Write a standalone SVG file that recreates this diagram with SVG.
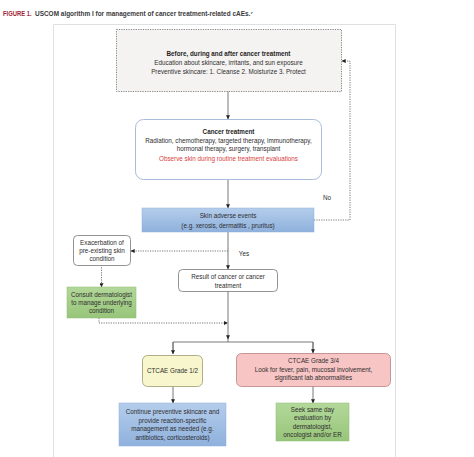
<svg xmlns="http://www.w3.org/2000/svg" width="474" height="457" viewBox="0 0 474 457">
<defs>
<linearGradient id="topline" x1="0" y1="0" x2="1" y2="0">
<stop offset="0" stop-color="#c4b8bc"/><stop offset="0.8" stop-color="#c9bfc2"/><stop offset="1" stop-color="#d9a0ad"/>
</linearGradient>
<linearGradient id="blue" x1="0" y1="0" x2="0" y2="1">
<stop offset="0" stop-color="#b4cdeb"/><stop offset="1" stop-color="#8fb1dd"/>
</linearGradient>
<linearGradient id="green" x1="0" y1="0" x2="0" y2="1">
<stop offset="0" stop-color="#b3d89a"/><stop offset="1" stop-color="#97c57a"/>
</linearGradient>
<marker id="arr" viewBox="0 0 6 6" refX="5.5" refY="3" markerWidth="4" markerHeight="4" orient="auto" markerUnits="userSpaceOnUse">
<path d="M0,0 L6,3 L0,6 Z" fill="#222"/>
</marker>
<style>
text{font-family:"Liberation Sans",Arial,sans-serif;font-size:6.3px;fill:#2e2e2e;text-anchor:middle}
.b{font-weight:bold;fill:#1e1e1e}
.red{fill:#d8403c}
.solid{fill:none;stroke:#6a6a6a;stroke-width:0.9}
.dot{fill:none;stroke:#555;stroke-width:0.8;stroke-dasharray:1.2 1.2}
.title{font-family:"Liberation Sans Narrow","Liberation Sans",sans-serif;font-stretch:condensed;font-weight:bold;font-size:7px;text-anchor:start;fill:#3a3a3a}
</style>
</defs>
<rect width="474" height="457" fill="#ffffff"/>
<line x1="0" y1="2.5" x2="447" y2="2.5" stroke="url(#topline)" stroke-width="1.2"/>
<text class="title" x="3" y="15.5" textLength="28.5" lengthAdjust="spacingAndGlyphs" style="fill:#a01c34">FIGURE 1.</text>
<text class="title" x="35" y="15.5" textLength="218" lengthAdjust="spacingAndGlyphs">USCOM algorithm I for management of cancer treatment-related cAEs.⁷</text>
<path d="M53.5,457 V24.5 H395.5 V457" fill="none" stroke="#e0e0e0" stroke-width="1"/>

<g id="connectors">
<path class="solid" d="M228,91 V119" marker-end="url(#arr)"/>
<path class="solid" d="M228,179 V208" marker-end="url(#arr)"/>
<path class="dot" d="M314,220 H350 V61 H342" marker-end="url(#arr)"/>
<path class="solid" d="M228,232 V269" marker-end="url(#arr)"/>
<path class="dot" d="M228,251 H131" marker-end="url(#arr)"/>
<path class="dot" d="M101.5,265 V287" marker-end="url(#arr)"/>
<path class="dot" d="M99,318 V323 H227.5" marker-end="url(#arr)"/>
<path class="solid" d="M228,291 V339" marker-end="url(#arr)"/>
<path class="solid" d="M228,338 V342 M173,352 V342 H313 V352"/>
<path class="solid" d="M173,342 V354" marker-end="url(#arr)"/>
<path class="solid" d="M313,342 V353" marker-end="url(#arr)"/>
<path class="solid" d="M173,386 V403" marker-end="url(#arr)"/>
<path class="solid" d="M313,386 V403" marker-end="url(#arr)"/>
<text x="327" y="199.5">No</text>
<text x="244" y="256">Yes</text>
</g>

<g id="before">
<rect x="116.5" y="29.5" width="225" height="62" fill="#f5f3f1" stroke="#666" stroke-width="0.8" stroke-dasharray="1.2 1.2"/>
<text class="b" x="228.5" y="56">Before, during and after cancer treatment</text>
<text x="228.5" y="65">Education about skincare, irritants, and sun exposure</text>
<text x="228.5" y="74">Preventive skincare: 1. Cleanse 2. Moisturize 3. Protect</text>
</g>

<g id="cancer-treatment">
<rect x="135.5" y="119.5" width="186" height="60" rx="8" fill="#ffffff" stroke="#a9bcdb" stroke-width="1"/>
<text class="b" x="228.5" y="134">Cancer treatment</text>
<text x="228.5" y="142.5">Radiation, chemotherapy, targeted therapy, immunotherapy,</text>
<text x="228.5" y="150.5">hormonal therapy, surgery, transplant</text>
<text class="red" x="228.5" y="161">Observe skin during routine treatment evaluations</text>
</g>

<g id="skin-adverse">
<rect x="142" y="208" width="172" height="24" fill="url(#blue)" stroke="#8eaedb" stroke-width="0.5"/>
<text x="228" y="218">Skin adverse events</text>
<text x="228" y="227.5">(e.g. xerosis, dermatitis , pruritus)</text>
</g>

<g id="exacerbation">
<rect x="73.5" y="235.5" width="57" height="30" rx="4" fill="#ffffff" stroke="#777" stroke-width="0.8"/>
<text x="102" y="245">Exacerbation of</text>
<text x="102" y="253">pre-existing skin</text>
<text x="102" y="261">condition</text>
</g>

<g id="consult">
<rect x="67" y="287" width="69" height="31" fill="url(#green)" stroke="#8dbb70" stroke-width="0.5"/>
<text x="101.5" y="297">Consult dermatologist</text>
<text x="101.5" y="305">to manage underlying</text>
<text x="101.5" y="313">condition</text>
</g>

<g id="result">
<rect x="178.5" y="269.5" width="99" height="22" rx="4" fill="#ffffff" stroke="#777" stroke-width="0.8"/>
<text x="228" y="279">Result of cancer or cancer</text>
<text x="228" y="287.5">treatment</text>
</g>

<g id="grade12">
<rect x="142.5" y="355.5" width="60" height="31" rx="5" fill="#f8f6cc" stroke="#9e9a6e" stroke-width="0.8"/>
<text x="172.5" y="373">CTCAE Grade 1/2</text>
</g>

<g id="grade34">
<rect x="236.5" y="353.5" width="154" height="33" rx="5" fill="#f8c5c5" stroke="#b98383" stroke-width="0.8"/>
<text x="313.5" y="363">CTCAE Grade 3/4</text>
<text x="313.5" y="371.5">Look for fever, pain, mucosal involvement,</text>
<text x="313.5" y="380">significant lab abnormalities</text>
</g>

<g id="continue">
<rect x="119" y="403" width="107" height="43" fill="url(#blue)" stroke="#8eaedb" stroke-width="0.5"/>
<text x="172.5" y="414">Continue preventive skincare and</text>
<text x="172.5" y="422.5">provide reaction-specific</text>
<text x="172.5" y="431">management as needed (e.g.</text>
<text x="172.5" y="439.5">antibiotics, corticosteroids)</text>
</g>

<g id="seek">
<rect x="276" y="403" width="73" height="38" fill="url(#green)" stroke="#8dbb70" stroke-width="0.5"/>
<text x="312.5" y="411.5">Seek same day</text>
<text x="312.5" y="420">evaluation by</text>
<text x="312.5" y="428.5">dermatologist,</text>
<text x="312.5" y="437">oncologist and/or ER</text>
</g>
</svg>
